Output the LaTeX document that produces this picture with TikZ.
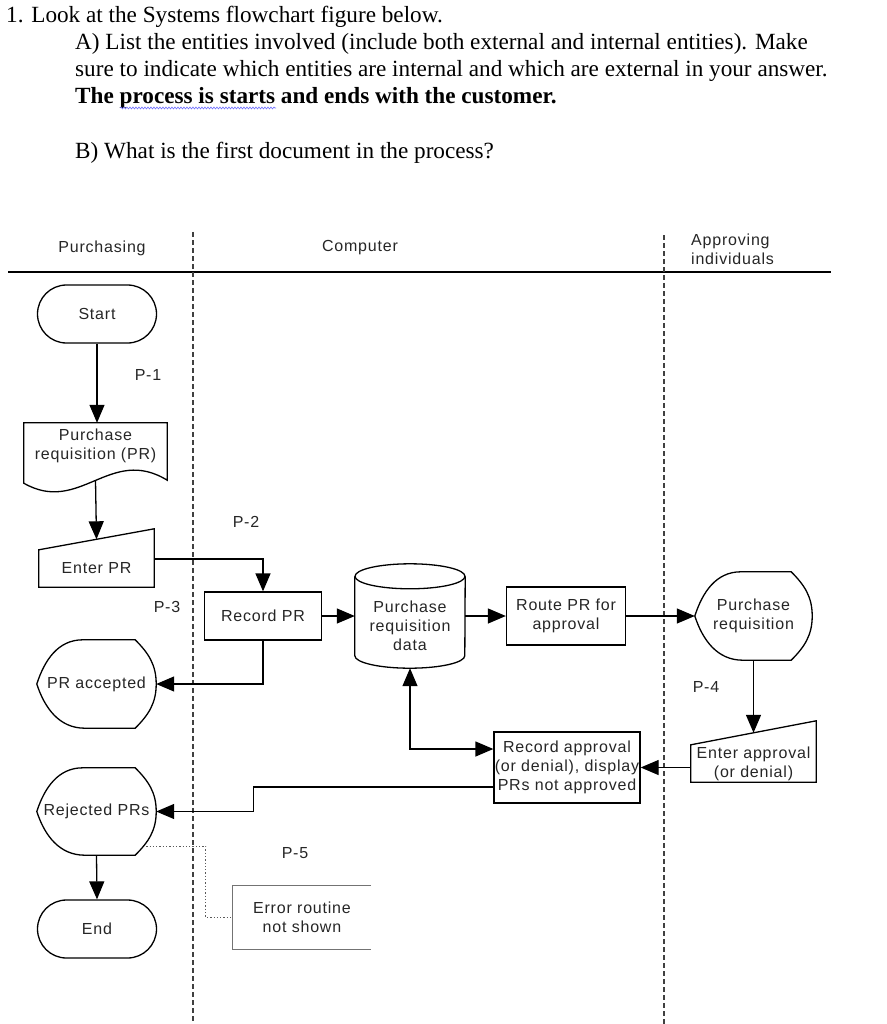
\documentclass[tikz,border=0pt]{standalone}
\usepackage{fontspec}
\setmainfont{Liberation Serif}
\setsansfont{Liberation Sans}[LetterSpace=5]
\usetikzlibrary{arrows.meta,decorations.pathmorphing}

% outlines drawn round named nodes
\newcommand{\docshape}[1]{\draw[shp] (#1.north west) -- (#1.north east) -- ([yshift=-11pt]#1.south east) .. controls +(-57pt,35pt) and +(56pt,-32pt) .. ([yshift=-14pt]#1.south west) -- cycle;}
\newcommand{\manshape}[2]{\draw[shp] (#1.south west) -- (#1.south east) -- ([yshift=#2]#1.north east) -- (#1.north west) -- cycle;}
\newcommand{\dispshape}[1]{\draw[shp] (#1.west) to[out=72,in=180] ([xshift=46pt]#1.north west) -- ([xshift=-21pt]#1.north east) to[out=-45,in=90] (#1.east) to[out=-90,in=45] ([xshift=-21pt]#1.south east) -- ([xshift=48pt]#1.south west) to[out=180,in=-72] (#1.west);}
\newcommand{\cylshape}[1]{\draw[shp] ([yshift=7.5pt]#1.north west) -- ([yshift=12.5pt]#1.south west) arc[start angle=180,end angle=360,x radius=55pt,y radius=12.5pt] -- ([yshift=7.5pt]#1.north east); \draw[shp] ([yshift=7.5pt]#1.north) ellipse[x radius=55pt,y radius=12.5pt];}

\tikzset{
  shp/.style={line width=1.3pt},
  flow/.style={line width=1.3pt, -{Triangle[length=18pt,width=15pt]}},
  twoway/.style={line width=1.3pt, {Triangle[length=18pt,width=15pt]}-{Triangle[length=18pt,width=15pt]}},
  lane/.style={line width=1.2pt, dash pattern=on 5pt off 3pt, black!75},
  txt/.style={font=\sffamily\fontsize{16}{19}\selectfont, text=black!85, align=center, inner sep=0pt},
  procbox/.style={txt, draw, line width=1.3pt},
  term/.style={txt, draw, line width=1.3pt, rounded corners=29pt, minimum width=119pt, minimum height=58pt},
  disp/.style={txt, minimum width=119pt, minimum height=88pt},
  qline/.style={font=\fontsize{23.2}{27}\selectfont, anchor=base west, inner sep=0pt},
}

\begin{document}
\begin{tikzpicture}[x=1pt,y=-1pt]
  \useasboundingbox (0,0) rectangle (886,1024);

  % question text
  \node[qline] (q1) at (6,23) {1. Look at the Systems flowchart figure below.};
  \node[qline] (qa1) at (75,50) {A) List the entities involved (include both external and internal entities). Make};
  \node[qline] (qa2) at (75,77) {sure to indicate which entities are internal and which are external in your answer.};
  \node[qline, font=\fontsize{23.2}{27}\selectfont\bfseries] (qa3) at (75,104) {The process is starts and ends with the customer.};
  \node[qline] (qb) at (75,159) {B) What is the first document in the process?};
  \draw[blue!55, line width=0.6pt, decorate, decoration={snake, amplitude=1pt, segment length=3pt}] (120,108) -- (276,108);

  % lanes
  \draw[line width=1.3pt] (8,272) -- (831,272);
  \draw[lane] (193,232) -- (193,1024);
  \draw[lane] (664,235) -- (664,1024);
  \node[txt] (hpur) at (102,248) {Purchasing};
  \node[txt] (hcom) at (360,248) {Computer};
  \node[txt, align=left, anchor=west] (happ) at (691,249) {Approving\\individuals};

  % purchasing
  \node[term] (start) at (97,314) {Start};
  \node[txt, minimum width=143pt, minimum height=46pt] (prdoc) at (95.5,446) {Purchase\\requisition (PR)};
  \docshape{prdoc}
  \node[txt, minimum width=115pt, minimum height=37pt] (enterpr) at (96.5,568.5) {Enter PR};
  \manshape{enterpr}{21pt}
  \node[disp] (pracc) at (96.5,684) {PR accepted};
  \dispshape{pracc}
  \node[disp, minimum height=87pt] (rej) at (96.5,811.5) {Rejected PRs};
  \dispshape{rej}
  \node[term] (end) at (97,929) {End};

  % computer
  \node[procbox, minimum width=117pt, minimum height=48pt] (recpr) at (263,616) {Record PR};
  \node[txt, minimum width=110pt, minimum height=84pt] (cyl) at (410,626) {Purchase\\requisition\\data};
  \cylshape{cyl}
  \node[procbox, minimum width=119pt, minimum height=58pt] (route) at (566,616) {Route PR for\\approval};
  \node[procbox, minimum width=146pt, minimum height=71pt] (recapp) at (567,767.5) {Record approval\\(or denial), display\\PRs not approved};
  \node[txt, minimum width=138pt, minimum height=63pt] (err) at (302,917.5) {Error routine\\not shown};
  \draw[black!55, line width=0.9pt] (err.north east) -- (err.north west) -- (err.south west) -- (err.south east);

  % approving individuals
  \node[disp, minimum width=117pt] (apdisp) at (753.5,616) {Purchase\\requisition};
  \dispshape{apdisp}
  \node[txt, minimum width=125pt, minimum height=37pt] (entapp) at (753.5,763.5) {Enter approval\\(or denial)};
  \manshape{entapp}{24pt}

  % step labels
  \node[txt] (p1) at (148,375) {P-1};
  \node[txt] (p2) at (246,522) {P-2};
  \node[txt] (p3) at (167,607) {P-3};
  \node[txt] (p4) at (706,687) {P-4};
  \node[txt] (p5) at (295,853) {P-5};

  % flow
  \draw[flow] (start.south) -- (start.south |- prdoc.north);
  \draw[flow] ([yshift=-11pt]prdoc.south) -- ([yshift=10.5pt]enterpr.north);
  \draw[flow] ([yshift=9.5pt]enterpr.east) -| (recpr.north);
  \draw[flow] (recpr.east) -- (recpr.east -| cyl.west);
  \draw[flow] (route.west -| cyl.east) -- (route.west);
  \draw[flow] (route.east) -- (apdisp.west);
  \draw[flow] (apdisp.south) -- ([yshift=12pt]entapp.north);
  \draw[flow] (entapp.west |- recapp.east) -- (recapp.east);
  \draw[twoway] (cyl.south) |- ([yshift=18.5pt]recapp.west);
  \draw[flow] ([yshift=-19.5pt]recapp.west) -| ([xshift=97pt]rej.east) -- (rej.east);
  \draw[flow] (recpr.south) |- (pracc.east);
  \draw[flow] (rej.south) -- (end.north);
  \draw[dotted, line width=1.3pt, black!65] ([xshift=-10pt,yshift=9pt]rej.south east) -| ([xshift=-27pt]err.west) -- (err.west);
\end{tikzpicture}
\end{document}
